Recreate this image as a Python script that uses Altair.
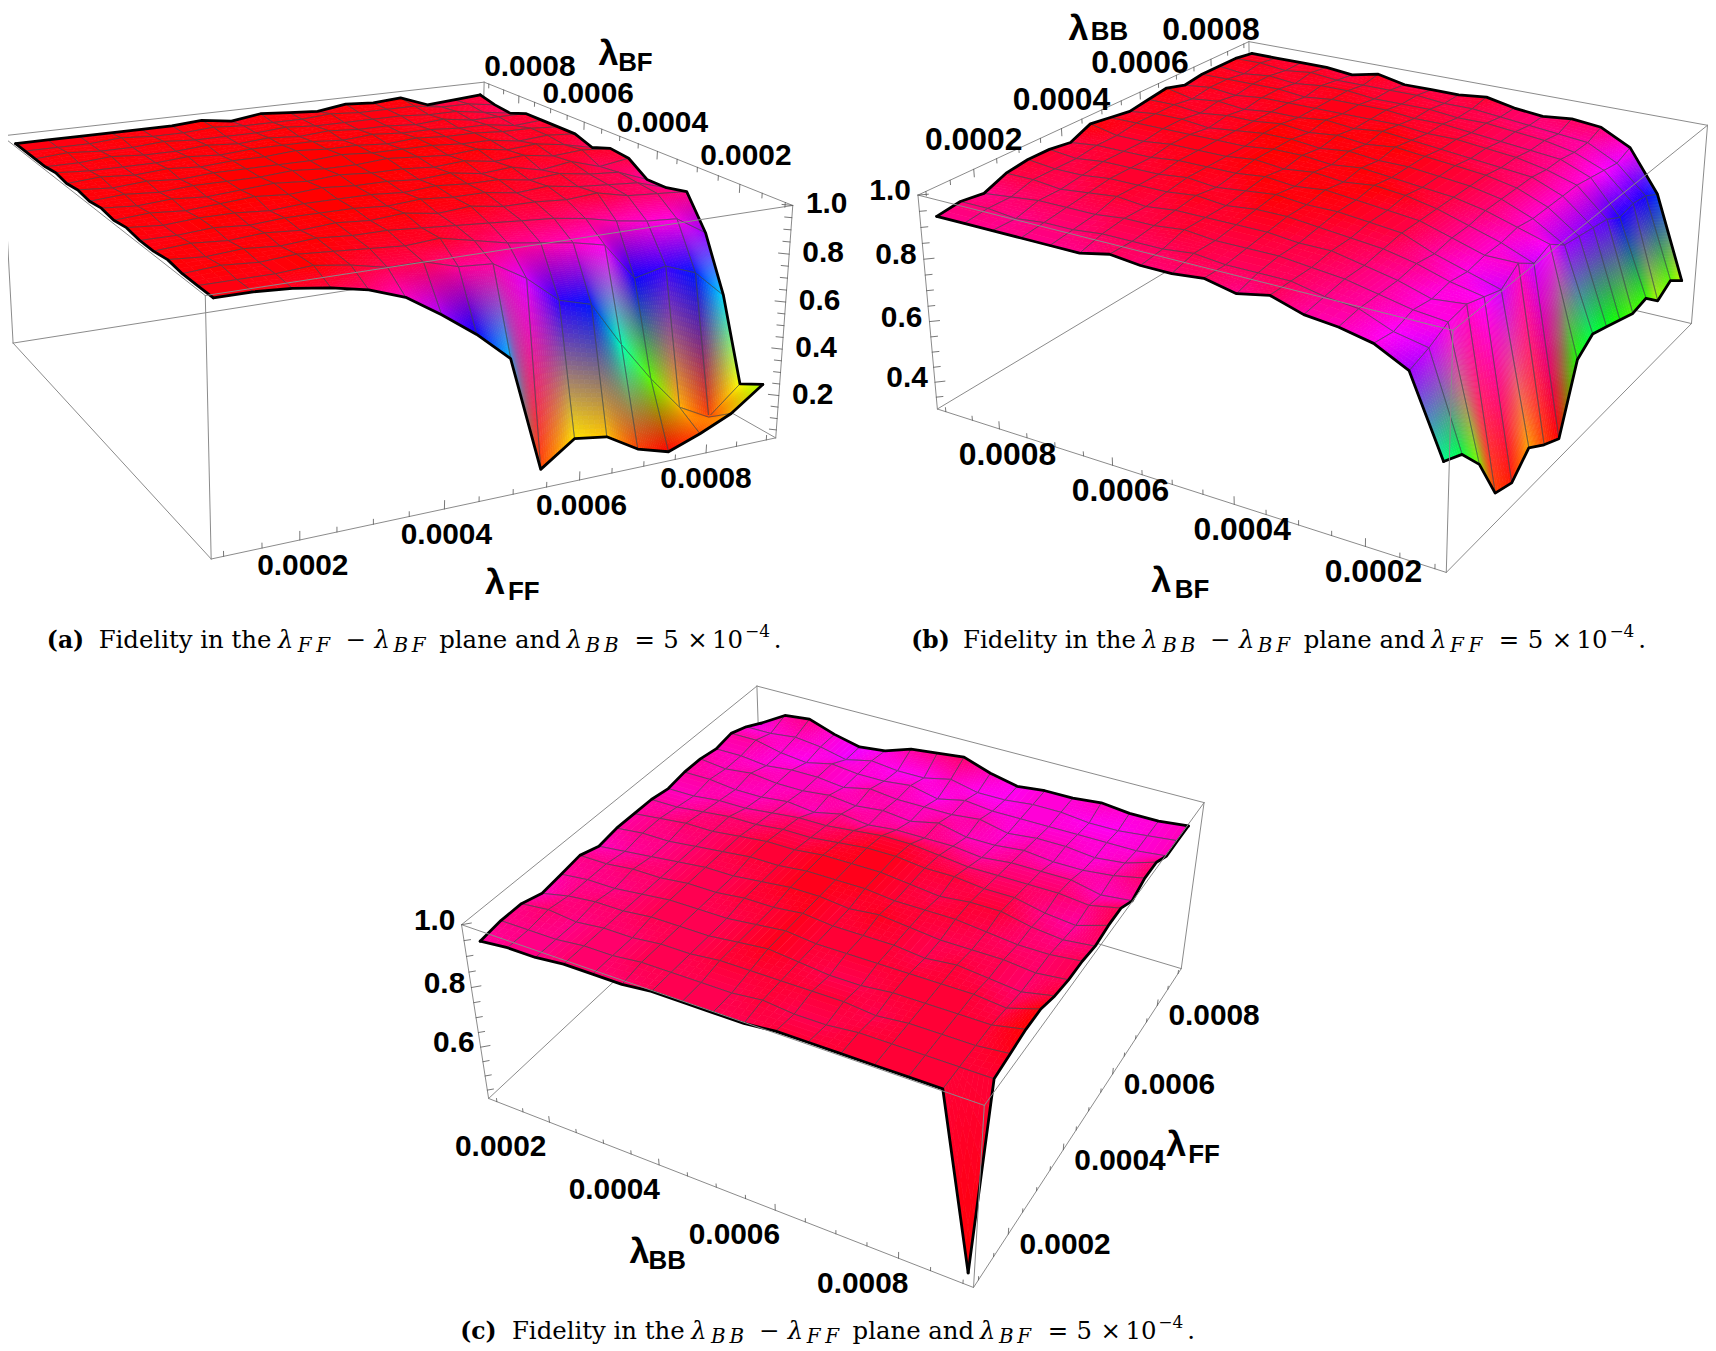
import colorsys
import math
import numpy as np
import pandas as pd
import altair as alt

# ---- fidelity, in percent; rows run along the second axis (front to back)
Z_A = [
 [97,97,96,94,91,86,77,67,55,7,17,15,7,3,8,14,24],
 [97,97,97,98,96,93,93,89,88,80,69,65,46,29,14,7,19],
 [97,98,97,98,97,96,95,96,93,90,88,86,83,67,70,65,53],
 [98,97,98,97,98,97,97,96,95,94,93,92,90,87,85,84,76],
 [97,98,97,98,97,98,97,98,96,97,95,95,94,95,92,91,90],
 [97,97,98,97,98,98,98,97,98,97,97,95,96,94,93,92,88],
 [98,97,98,98,97,98,98,98,97,98,97,97,95,96,94,93,88],
 [97,98,97,98,99,98,99,98,98,97,98,96,97,94,96,92,94],
 [98,97,98,97,98,99,98,99,98,98,97,98,96,97,95,96,95],
 [97,98,97,98,98,98,99,98,98,99,98,97,98,96,97,95,92],
 [98,97,98,97,98,98,98,98,99,98,98,98,97,97,95,96,95],
 [97,98,97,98,97,98,98,99,98,98,97,98,97,97,96,96,95],
 [98,97,97,97,98,97,98,98,98,97,98,97,97,96,96,94,95],
 [97,97,98,97,97,98,97,98,97,98,97,97,96,97,95,95,95],
 [97,98,97,97,98,97,97,97,98,97,97,97,97,96,96,94,92],
 [97,97,97,98,97,97,98,97,97,97,98,97,97,97,95,95,93],
 [97,97,97,97,97,97,98,96,98,97,96,98,97,98,93,94,95],
]
Z_B = [
 [61,58,50,36,34,40,36,33,54,58,56,54,52,53,48,51,47],
 [84,86,89,90,88,86,90,86,88,84,83,82,81,78,79,78,75],
 [89,88,90,89,90,89,90,90,91,90,90,90,90,89,88,87,89],
 [91,92,92,92,93,92,93,93,94,94,94,94,93,93,92,92,94],
 [92,93,94,94,95,96,96,96,96,96,96,95,95,94,94,93,95],
 [95,95,95,96,96,97,97,98,97,97,97,96,96,95,95,94,94],
 [93,95,96,96,97,98,98,99,98,98,98,97,97,96,96,95,95],
 [95,95,96,97,98,98,99,98,99,98,99,98,97,97,96,96,97],
 [94,96,96,97,98,99,98,99,98,99,98,99,98,97,97,96,96],
 [94,95,97,97,97,98,99,98,99,98,99,98,98,98,97,97,96],
 [95,95,96,97,98,97,98,99,99,99,98,99,98,98,97,97,96],
 [93,95,96,96,97,98,98,98,98,99,99,98,98,98,98,97,98],
 [93,94,95,97,97,97,98,98,98,98,98,98,98,97,98,97,96],
 [93,94,95,96,97,97,97,98,98,97,98,97,98,98,97,98,97],
 [93,93,95,95,96,97,97,97,98,98,97,98,97,98,98,97,97],
 [93,94,94,96,96,96,97,97,98,98,98,97,98,98,97,98,97],
 [93,94,93,96,97,97,96,99,98,97,98,99,97,98,98,98,97],
]
Z_C = [
 [94,95,95,96,96,96,97,97,97,97,98,98,98,98,98,98,43],
 [95,95,95,96,96,97,97,97,97,98,97,97,98,98,98,98,98],
 [95,96,95,96,96,97,97,98,98,98,98,98,97,98,98,98,99],
 [93,95,96,96,97,97,97,98,99,98,97,97,98,98,98,98,100],
 [94,95,95,96,97,97,97,98,99,98,98,98,98,98,98,97,100],
 [95,95,96,96,97,97,98,98,99,98,98,98,97,98,97,96,98],
 [93,94,95,96,97,97,98,99,99,98,99,98,97,97,97,96,97],
 [94,95,95,96,97,98,98,99,99,99,98,98,98,97,96,96,97],
 [94,95,96,96,97,98,98,99,99,99,98,97,98,98,96,95,96],
 [94,94,95,96,96,97,97,98,99,99,98,98,97,97,95,94,97],
 [93,93,94,94,95,96,96,97,98,98,97,96,96,96,96,95,97],
 [94,94,93,93,94,93,95,94,95,95,95,94,95,95,95,93,94],
 [94,93,94,93,93,94,93,94,93,95,93,93,94,93,93,94,96],
 [93,93,92,93,93,92,94,93,93,93,94,92,93,93,92,93,96],
 [94,94,92,91,93,92,92,93,91,93,92,92,92,92,92,92,93],
 [92,92,93,92,90,92,91,91,93,91,91,92,92,91,91,92,93],
 [89,94,95,92,90,91,94,95,96,93,91,92,92,93,92,92,93],
]
LAMBDA = [0.0001 + k * 0.00005 for k in range(17)]
LAM_LO, LAM_HI = 0.000084, 0.000916

W, H = 1707, 1343
PAGE = 8

# camera calibration: box corner (u, v, z) -> where it lies in the reference
PANELS = {
 "a": dict(z=Z_A, zr=(0.015, 1.0), hue=(0.03, 0.98), near=(0, 0),
   cal=[(0,0,1,206,295),(0,0,0,212,558),(1,0,1,796,203),(1,0,0,779,437),(1,1,1,486,80),(0,1,1,2,133),(0,1,0,13,342)],
   u_axis=(0, 0, [(3,26),(2,26),(2,26),(0,26)], 30), v_axis=(1, 1, [(6,-28),(5,-28),(4,-28),(11,-29)], 30),
   z_axis=(1, 0, (34, -1), 30), zticks=[1.0, 0.8, 0.6, 0.4, 0.2]),
 "b": dict(z=Z_B, zr=(0.31, 1.0), hue=(0.33, 0.99), near=(0, 0),
   cal=[(0,1,1,922,193),(0,1,0,941,408),(1,1,1,1254,39),(1,0,1,1715,123),(1,0,0,1698,322),(0,0,1,1458,329),(0,0,0,1453,572)],
   u_axis=(1, 1, (0, -29), 32), v_axis=(0, 0, (8, 26), 32), z_axis=(0, 1, (-28, -4), 30),
   zticks=[1.0, 0.8, 0.6, 0.4]),
 "c": dict(z=Z_C, zr=(0.42, 1.0), hue=(0.43, 1.0), near=(1, 0),
   cal=[(0,0,1,463,926),(0,0,0,491,1100),(1,0,1,990,1107),(1,0,0,976,1290),(1,1,1,1208,803),(1,1,0,1187,970),(0,1,1,760,686)],
   u_axis=(0, 0, [(-49,25),(-45,25),(-41,25),(-36,26)], 30), v_axis=(1, 0, (57, 11), 30), z_axis=(0, 0, (-27, -4), 30),
   zticks=[1.0, 0.8, 0.6]),
}
# axis titles: (lambda centre, subscript text, subscript centre)
TITLES = [((611,51),"BF",(638,60)), ((497,583),"FF",(526,592)),
          ((1083,26),"BB",(1114,29)), ((1166,581),"BF",(1197,590)),
          ((642,1254),"BB",(670,1263)), ((1181,1147),"FF",(1209,1157))]
CAPTIONS = [("(a)", 0, 0, "FF", "BF", "BB"), ("(b)", 868, 0, "BB", "BF", "FF"), ("(c)", 415, 694, "BB", "FF", "BF")]


def fit_camera(cal):
    rows = []
    for u, v, z, x, y in cal:
        X = [u, v, z, 1]
        rows.append(X + [0]*4 + [-x*c for c in X])
        rows.append([0]*4 + X + [-y*c for c in X])
    P = np.linalg.svd(np.array(rows, float))[2][-1].reshape(3, 4)
    return P / P[2, 3]

def proj(P, u, v, z):
    p = P @ np.array([u, v, z, 1.0])
    return [round(float(p[0]/p[2]) - PAGE, 1), round(float(p[1]/p[2]) - PAGE, 1)]

def to_u(lam):
    return (lam - LAM_LO) / (LAM_HI - LAM_LO)

def hue_rgb(h):
    return np.array(colorsys.hsv_to_rgb(min(max(h, 0), 1) % 1.0, 1, 1)) * 255

def hexc(c):
    return "#%02x%02x%02x" % tuple(int(round(float(x))) for x in c)

def poly(pts, fill, sw=0.7):
    return {"type": "Feature", "geometry": {"type": "Polygon", "coordinates": [pts + [pts[0]]]},
            "f": fill, "s": fill, "w": sw}

def line(pts, col, sw):
    return {"type": "Feature", "geometry": {"type": "LineString", "coordinates": pts},
            "f": "transparent", "s": col, "w": sw}

features = []
labels = []
for key, pn in PANELS.items():
    P = fit_camera(pn["cal"])
    zl, zh = pn["zr"]; hl, hh = pn["hue"]
    Zg = np.array(pn["z"], float) / 100
    Zn = (Zg - zl) / (zh - zl)
    U = to_u(np.array(LAMBDA))
    RGB = np.array([[hue_rgb((Zg[j, i] - hl) / (hh - hl)) for i in range(17)] for j in range(17)])
    nu, nv = pn["near"]
    # box
    corners = {(a, b, c): proj(P, a, b, c) for a in (0, 1) for b in (0, 1) for c in (0, 1)}
    edges = []
    for a in (0, 1):
        for b in (0, 1):
            edges.append(((a, b, 0), (a, b, 1)))
    for c in (0, 1):
        for a in (0, 1):
            edges.append(((a, 0, c), (a, 1, c)))
            edges.append(((0, a, c), (1, a, c)))
    near0, near1 = (nu, nv, 0), (nu, nv, 1)
    back, front = [], []
    for p, q in edges:
        (front if p in (near0, near1) or q in (near0, near1) else back).append(line([corners[p], corners[q]], "#8a8a8a", 1.0))
    features += back
    # cells, far to near
    cells = []
    for j in range(16):
        for i in range(16):
            cu, cv = (U[i] + U[i+1]) / 2, (U[j] + U[j+1]) / 2
            cz = Zn[j:j+2, i:i+2].mean()
            cells.append((float(P[2] @ np.array([cu, cv, cz, 1.0])), i, j))
    cells.sort(key=lambda c: -c[0])
    for _, i, j in cells:
        ds = max(float(np.abs(RGB[j,i] - RGB[j,i+1]).max()), float(np.abs(RGB[j+1,i] - RGB[j+1,i+1]).max()))
        dt = max(float(np.abs(RGB[j,i] - RGB[j+1,i]).max()), float(np.abs(RGB[j,i+1] - RGB[j+1,i+1]).max()))
        ns = max(1, min(16, math.ceil(ds / 8)))
        nt = max(1, min(30, math.ceil(dt / 8)))
        def at(s, t):
            zz = (1-s)*(1-t)*Zn[j,i] + s*(1-t)*Zn[j,i+1] + s*t*Zn[j+1,i+1] + (1-s)*t*Zn[j+1,i]
            return proj(P, U[i] + s*(U[i+1]-U[i]), U[j] + t*(U[j+1]-U[j]), zz)
        for a in range(ns):
            for b in range(nt):
                s0, s1, t0, t1 = a/ns, (a+1)/ns, b/nt, (b+1)/nt
                sm, tm = (s0+s1)/2, (t0+t1)/2
                c = (1-sm)*(1-tm)*RGB[j,i] + sm*(1-tm)*RGB[j,i+1] + sm*tm*RGB[j+1,i+1] + (1-sm)*tm*RGB[j+1,i]
                features.append(poly([at(s0,t0), at(s1,t0), at(s1,t1), at(s0,t1)], hexc(c)))
        v = [proj(P, U[i], U[j], Zn[j,i]), proj(P, U[i+1], U[j], Zn[j,i+1]),
             proj(P, U[i+1], U[j+1], Zn[j+1,i+1]), proj(P, U[i], U[j+1], Zn[j+1,i])]
        features.append(line(v + [v[0]], "#3f4a4c", 0.7))
    # thick outline
    for pts in ([proj(P, U[i], U[0], Zn[0,i]) for i in range(17)],
                [proj(P, U[i], U[16], Zn[16,i]) for i in range(17)],
                [proj(P, U[0], U[j], Zn[j,0]) for j in range(17)],
                [proj(P, U[16], U[j], Zn[j,16]) for j in range(17)]):
        features.append(line(pts, "#000000", 2.8))
    features += front
    # ticks and tick labels
    def add_axis(axis, which):
        fixed, zside, off, fs = axis
        for m in range(2, 19):
            lam = m * 0.00005
            tt = to_u(lam)
            uu, vv = (tt, fixed) if which == "u" else (fixed, tt)
            major = m % 4 == 0
            dz = (0.035 if major else 0.02) * (1 if zside == 0 else -1)
            features.append(line([proj(P, uu, vv, zside), proj(P, uu, vv, zside + dz)], "#555555", 0.8))
            if major:
                o = off[m // 4 - 1] if isinstance(off, list) else off
                x, y = proj(P, uu, vv, zside)
                labels.append(dict(text="%.4f" % lam, x=x + o[0], y=y + o[1], size=fs))
    add_axis(pn["u_axis"], "u")
    add_axis(pn["v_axis"], "v")
    au, av, off, fs = pn["z_axis"]
    dirn = (0.008 if au == 0 else -0.008, 0.008 if av == 0 else -0.008)
    for m in range(1, 21):
        zv = m * 0.05
        if zv < zl or zv > zh:
            continue
        zz = (zv - zl) / (zh - zl)
        k = 1.5 if m % 4 == 0 else 1
        features.append(line([proj(P, au, av, zz), proj(P, au + dirn[0]*k, av + dirn[1]*k, zz)], "#555555", 0.8))
    for zv in pn["zticks"]:
        zz = (zv - zl) / (zh - zl)
        x, y = proj(P, au, av, zz)
        labels.append(dict(text="%.1f" % zv, x=x + off[0], y=y + off[1], size=fs))

surface = alt.Chart(alt.Data(values=features)).mark_geoshape(strokeJoin="round", strokeCap="round").encode(
    fill=alt.Fill("f:N", scale=None),
    stroke=alt.Stroke("s:N", scale=None),
    strokeWidth=alt.StrokeWidth("w:Q", scale=None),
).project(type="identity", scale=1, translate=[0, 0])

for (lx, ly), sub, (sx, sy) in TITLES:
    labels.append(dict(text="\u03bb", x=lx - PAGE, y=ly - PAGE, size=36))
    labels.append(dict(text=sub, x=sx - PAGE, y=sy - PAGE, size=26))

def text_layer(df, **kw):
    return alt.Chart(df).mark_text(**kw).encode(
        x=alt.X("x:Q", scale=None, axis=None),
        y=alt.Y("y:Q", scale=None, axis=None),
        text="text:N",
        size=alt.Size("size:Q", scale=None),
    )

bold_labels = text_layer(pd.DataFrame(labels), font="Liberation Sans", fontWeight="bold",
                         align="center", baseline="middle", color="#000000")

plain, ital, boldc = [], [], []
BASE = 648 - PAGE
for tag, dx, dy, s1, s2, s3 in CAPTIONS:
    def add(lst, t, x, dyy=0, size=24.5):
        lst.append(dict(text=t, x=x + dx - PAGE, y=BASE + dy + dyy, size=size))
    def sub(name, x):
        add(ital, name[0], x, 4, 20); add(ital, name[1], x + 18.5, 4, 20)
    add(boldc, tag, 47, size=23.5)
    add(plain, "Fidelity in the", 99)
    add(ital, "\u03bb", 279); sub(s1, 299)
    add(plain, "\u2212", 347)
    add(ital, "\u03bb", 376); sub(s2, 395)
    add(plain, "plane and", 441)
    add(ital, "\u03bb", 569); sub(s3, 588)
    add(plain, "=", 637); add(plain, "5", 666); add(plain, "\u00d7", 690); add(plain, "10", 715)
    add(plain, "\u22124", 748, -11, 17); add(plain, ".", 777)

cap_kw = dict(font="DejaVu Serif", align="left", baseline="alphabetic", color="#000000")
cap_plain = text_layer(pd.DataFrame(plain), **cap_kw)
cap_ital = text_layer(pd.DataFrame(ital), fontStyle="italic", **cap_kw)
cap_bold = text_layer(pd.DataFrame(boldc), fontWeight="bold", **cap_kw)

chart = alt.layer(surface, bold_labels, cap_plain, cap_ital, cap_bold).properties(
    width=W, height=H, padding=0, autosize=alt.AutoSizeParams(type="none"), background="#ffffff"
).configure_view(stroke=None)

chart.save("out.html", embed_options={"renderer": "svg", "actions": False})
